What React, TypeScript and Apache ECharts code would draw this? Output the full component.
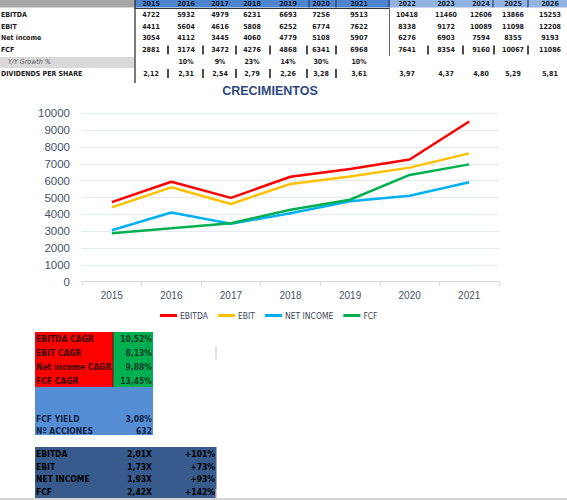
import React, { useEffect, useRef } from "react";
import * as echarts from "echarts";

// ---------- data ----------
const years = ["2015", "2016", "2017", "2018", "2019", "2020", "2021"];
const forecastYears = ["2022", "2023", "2024", "2025", "2026"];
const ebitda = [4722, 5932, 4979, 6231, 6693, 7256, 9513];
const ebit = [4411, 5604, 4616, 5808, 6252, 6774, 7622];
const netIncome = [3054, 4112, 3445, 4060, 4779, 5108, 5907];
const fcf = [2881, 3174, 3472, 4276, 4868, 6341, 6968];
const ebitdaFc = [10418, 11460, 12606, 13866, 15253];
const ebitFc = [8338, 9172, 10089, 11098, 12208];
const netIncomeFc = [6276, 6903, 7594, 8355, 9193];
const fcfFc = [7641, 8354, 9160, 10067, 11086];
const yoyGrowth = ["", "10%", "9%", "23%", "14%", "30%", "10%"];
const dividends = ["2,12", "2,31", "2,54", "2,79", "2,26", "3,28", "3,61", "3,97", "4,37", "4,80", "5,29", "5,81"];
const yTicks = [0, 10000, 1000];

const cagrLabels = ["EBITDA CAGR", "EBIT CAGR", "Net income CAGR", "FCF CAGR"];
const cagrValues = ["10,52%", "8,13%", "9,88%", "13,45%"];
const yieldLabels = ["FCF YIELD", "Nº ACCIONES"];
const yieldValues = ["3,08%", "632"];
const multLabels = ["EBITDA", "EBIT", "NET INCOME", "FCF"];
const multValues = ["2,01X", "1,73X", "1,93X", "2,42X"];
const multPct = ["+101%", "+73%", "+93%", "+142%"];

// ---------- layout ----------
const FONT = "'Liberation Sans Narrow', 'DejaVu Sans Condensed', 'Liberation Sans', sans-serif";
const colX = [151, 186, 220, 252, 288, 321, 359, 407, 446, 481, 513, 550];
const rowY = [15, 26.5, 38, 50, 62, 73.5];
const fcfBars = [168, 203, 236, 270, 307, 336, 428, 463, 494, 528];
const divBars = [168, 203, 236, 270, 307, 336];

function txt(x: number, y: number, text: string, extra: any = {}) {
  return {
    type: "text",
    x,
    y,
    z: 10,
    silent: true,
    style: {
      text,
      fontFamily: FONT,
      fontSize: 7,
      fontWeight: "bold",
      fill: "#1a1a1a",
      opacity: 1,
      align: "center",
      verticalAlign: "middle",
      ...extra,
    },
  };
}

function buildGraphics() {
  const g: any[] = [];
  // header
  g.push({ type: "rect", shape: { x: 0, y: 0, width: 135, height: 7.5 }, style: { fill: "#a6a6a6" } });
  g.push({ type: "rect", shape: { x: 135, y: 0, width: 255, height: 7.5 }, style: { fill: "#4f84cf" } });
  g.push({ type: "rect", shape: { x: 390, y: 0, width: 177, height: 7.5 }, style: { fill: "#92b4e3" } });
  [309, 336, 389, 493, 528].forEach((x) =>
    g.push({ type: "line", shape: { x1: x, y1: 0, x2: x, y2: 7.5 }, style: { stroke: "#1f2f4f", lineWidth: 1 } })
  );
  g.push({ type: "line", shape: { x1: 135, y1: 8.5, x2: 390, y2: 8.5 }, style: { stroke: "#333", lineWidth: 1 } });
  g.push({ type: "line", shape: { x1: 135, y1: 0, x2: 135, y2: 83 }, style: { stroke: "#222", lineWidth: 1.2 } });
  g.push({ type: "line", shape: { x1: 389.5, y1: 8, x2: 389.5, y2: 56 }, style: { stroke: "#666", lineWidth: 1 } });
  // Y/Y band
  g.push({ type: "rect", shape: { x: 0, y: 57, width: 134, height: 11 }, style: { fill: "#d9d9d9" } });

  const allYears = [...years, ...forecastYears];
  allYears.forEach((y, i) => g.push(txt(colX[i], 3.5, y, { fill: "#0e1a30" })));

  const rows: [string, (string | number)[]][] = [
    ["EBITDA", [...ebitda, ...ebitdaFc]],
    ["EBIT", [...ebit, ...ebitFc]],
    ["Net income", [...netIncome, ...netIncomeFc]],
    ["FCF", [...fcf, ...fcfFc]],
    ["Y/Y Growth %", yoyGrowth],
    ["DIVIDENDS PER SHARE", dividends],
  ];
  rows.forEach(([label, vals], r) => {
    if (r === 4) {
      g.push(txt(8, rowY[r], label, { align: "left", fontStyle: "italic", fontWeight: "normal", fill: "#595959" }));
    } else {
      g.push(txt(1, rowY[r], label, { align: "left" }));
    }
    vals.forEach((v, i) => {
      if (v !== "") g.push(txt(colX[i], rowY[r], String(v)));
    });
  });
  fcfBars.forEach((x) =>
    g.push({ type: "rect", shape: { x: x - 0.8, y: rowY[3] - 4.5, width: 1.6, height: 9 }, style: { fill: "#222" } })
  );
  divBars.forEach((x) =>
    g.push({ type: "rect", shape: { x: x - 0.8, y: rowY[5] - 4.5, width: 1.6, height: 9 }, style: { fill: "#222" } })
  );

  // chart title
  g.push(txt(270, 91, "CRECIMIENTOS", { fontSize: 12.5, fill: "#2e4a7e", fontFamily: "'Liberation Sans', sans-serif" }));

  // CAGR block
  g.push({ type: "rect", shape: { x: 35, y: 332, width: 78, height: 55 }, style: { fill: "#ff0000" } });
  g.push({ type: "rect", shape: { x: 113, y: 332, width: 40, height: 55 }, style: { fill: "#00b050" } });
  g.push({ type: "line", shape: { x1: 113, y1: 332, x2: 113, y2: 387 }, style: { stroke: "#5a1a1a", lineWidth: 1 } });
  const cagrY = [338.5, 352.5, 367, 381];
  cagrLabels.forEach((l, i) => {
    g.push(txt(36, cagrY[i], l, { align: "left", fontSize: 8.5, fill: "#3a0505" }));
    g.push(txt(152, cagrY[i], cagrValues[i], { align: "right", fontSize: 8.5, fill: "#163d22" }));
  });
  // yield block
  g.push({ type: "rect", shape: { x: 35, y: 387, width: 118, height: 48 }, style: { fill: "#558ed5" } });
  const yieldY = [418.5, 431];
  yieldLabels.forEach((l, i) => {
    g.push(txt(36, yieldY[i], l, { align: "left", fontSize: 8.5, fill: "#10213f" }));
    g.push(txt(152, yieldY[i], yieldValues[i], { align: "right", fontSize: 8.5, fill: "#10213f" }));
  });
  // small marks
  g.push({ type: "line", shape: { x1: 216, y1: 345, x2: 216, y2: 360 }, style: { stroke: "#c6d9cf", lineWidth: 1.2 } });
  // multiples block
  g.push({ type: "rect", shape: { x: 35, y: 447, width: 181.5, height: 51 }, style: { fill: "#365b8c" } });
  g.push({ type: "rect", shape: { x: 215.5, y: 489, width: 1.5, height: 9 }, style: { fill: "#f4c7a6" } });
  const multY = [454, 466.5, 479, 492];
  multLabels.forEach((l, i) => {
    g.push(txt(36, multY[i], l, { align: "left", fontSize: 8.5, fill: "#000000" }));
    g.push(txt(152, multY[i], multValues[i], { align: "right", fontSize: 8.5, fill: "#000000" }));
    g.push(txt(215, multY[i], multPct[i], { align: "right", fontSize: 8.5, fill: "#000000" }));
  });
  g.push({ type: "rect", shape: { x: 0, y: 498, width: 567, height: 2 }, style: { fill: "#d4d4d4" } });
  return g;
}

export default function App() {
  const ref = useRef<HTMLDivElement>(null);
  useEffect(() => {
    document.body.style.margin = "0";
    if (!ref.current) return;
    const chart = echarts.init(ref.current, undefined, { renderer: "svg" });
    const axisColor = "#44546a";
    const mk = (name: string, data: number[], color: string) => ({
      name,
      type: "line",
      data,
      symbol: "none",
      lineStyle: { color, width: 2.5 },
      itemStyle: { color },
      z: 3,
    });
    chart.setOption({
      animation: false,
      backgroundColor: "#ffffff",
      textStyle: { fontFamily: FONT },
      grid: { left: 82, right: 68, top: 113.3, bottom: 218.3, containLabel: false },
      xAxis: {
        type: "category",
        data: years,
        boundaryGap: true,
        axisLine: { lineStyle: { color: "#d9d9d9", width: 1 } },
        axisTick: { show: true, length: 4, lineStyle: { color: "#d9d9d9" } },
        axisLabel: { color: axisColor, fontSize: 10, margin: 9, fontFamily: "'Liberation Sans', sans-serif" },
      },
      yAxis: {
        type: "value",
        min: yTicks[0],
        max: yTicks[1],
        interval: yTicks[2],
        axisLine: { show: false },
        axisTick: { show: false },
        axisLabel: {
          color: axisColor,
          fontSize: 11.5,
          margin: 12,
          fontFamily: "'Liberation Sans', sans-serif",
          formatter: (v: number) => String(v),
        },
        splitLine: { lineStyle: { color: "#e3e9f1", width: 1 } },
      },
      legend: {
        left: 160,
        top: 311,
        padding: 0,
        itemGap: 10,
        itemWidth: 17,
        itemHeight: 3,
        icon: "rect",
        textStyle: { fontSize: 8.5, color: "#3b4556", padding: [0, 0, 0, -2] },
        data: ["EBITDA", "EBIT", "NET INCOME", "FCF"],
      },
      series: [
        mk("EBITDA", ebitda, "#ff0000"),
        mk("EBIT", ebit, "#ffc000"),
        mk("NET INCOME", netIncome, "#00b0f0"),
        mk("FCF", fcf, "#00b050"),
      ],
      graphic: { elements: buildGraphics() },
    });
    return () => chart.dispose();
  }, []);
  return <div ref={ref} style={{ width: 567, height: 500 }} />;
}
